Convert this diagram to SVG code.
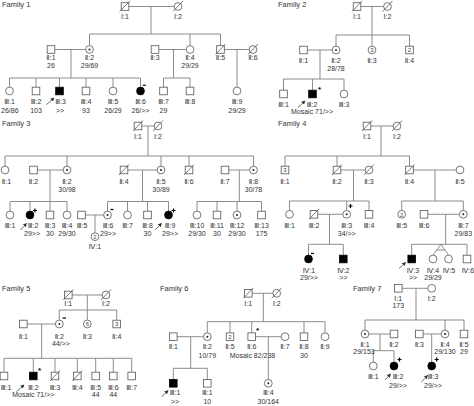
<svg xmlns="http://www.w3.org/2000/svg" width="474" height="406" viewBox="0 0 474 406">
<style>
.ln{stroke:#808080;stroke-width:0.9;fill:none}
.s{fill:#fff;stroke:#555;stroke-width:0.8}
.f{fill:#000;stroke:#000;stroke-width:0.8}
.sl{stroke:#555;stroke-width:0.8}
.dt{fill:#222}
.mk{stroke:#000;stroke-width:1.2;fill:none}
.ar{stroke:#333;stroke-width:0.7;marker-end:url(#ah)}
text{font-family:"Liberation Sans","DejaVu Sans",sans-serif;font-size:7px;text-anchor:middle;fill:#333}
.t{font-size:7.5px;text-anchor:start;fill:#333}
.in{font-size:6px;fill:#444}
.st{font-size:8px;font-weight:bold;fill:#000}
</style>
<defs>
<marker id="ah" viewBox="0 0 6 6" refX="5" refY="3" markerWidth="4" markerHeight="4" markerUnits="userSpaceOnUse" orient="auto"><path d="M0,0L6,3L0,6z" fill="#333"/></marker>
</defs>
<rect width="474" height="406" fill="#fff"/>
<text class="t" x="2" y="7">Family 1</text>
<text class="t" x="278" y="7">Family 2</text>
<text class="t" x="2" y="125.5">Family 3</text>
<text class="t" x="278" y="125.5">Family 4</text>
<text class="t" x="2" y="291">Family 5</text>
<text class="t" x="160" y="291">Family 6</text>
<text class="t" x="353" y="291">Family 7</text>

<g id="connectors">
<path class="ln" d="M129 6.5H174M151 6.5V34M89.5 34H220.5M89.5 34V45.6M190 34V45.6M220.5 34V45.7M54.8 49.5H85.6M71 49.5V78M9.5 78H140.5M9.5 78V87.1M36 78V87.2M59.5 78V87.2M86 78V87.2M113 78V87.1M140.5 78V87.1M158.8 49.5H186.1M173.5 49.5V78M163.5 78H190M163.5 78V87.2M190 78V87.2M224.3 49.5H249.1M237 49.5V87.1"/>
<path class="ln" d="M360.8 6.5H383.6M372 6.5V35M336 35H409.5M336 35V46.1M372 35V46.1M409.5 35V46.2M307.3 50H332.1M320 50V79M283.5 79H344M283.5 79V90.2M312.5 79V90.2M344 79V90.1"/>
<path class="ln" d="M141.8 126H154.1M148 126V156M5 156H253.5M5 156V166.1M67 156V166.1M161 156V166.1M189 156V166.2M253.5 156V166.1M37.3 170H63.1M50 170V201.5M10 201.5H67M10 201.5V211.1M30 201.5V211.1M50 201.5V211.2M67 201.5V211.1M127.8 170H157.1M142.5 170V201.5M107.5 201.5H168.5M107.5 201.5V211.1M127.5 201.5V211.1M147.5 201.5V211.2M168.5 201.5V211.1M228.8 170H249.6M239.3 170V201.5M197 201.5H261.5M197 201.5V211.1M217 201.5V211.2M237 201.5V211.1M261.5 201.5V211.2M85.3 215H103.6M95 215V232.8"/>
<path class="ln" d="M370.8 126H393.1M381 126V156M285 156H409.5M285 156V166.2M337 156V166.2M409.5 156V166.2M340.8 170H365.1M353.5 170V201M289.5 201H369M289.5 201V210.4M346.7 201V210.4M369 201V210.5M413.3 170H456.1M435 170V201M401.7 201H463.3M401.7 201V210.4M463.3 201V210.4M317.8 214.3H342.8M329.5 214.3V244.3M308.5 244.3H343.3M308.5 244.3V255.1M343.3 244.3V255.2M427.8 214.3H459.4M445.7 214.3V244.3M411.7 244.3H467M411.7 244.3V255.2M467 244.3V255.2M433 255.1L441 244.3L448.5 255.1M436.8 250H445"/>
<path class="ln" d="M72.1 295H102.1M87.3 295V310M59.3 310H116.7M59.3 310V320.1M87.3 310V320.1M116.7 310V320.2M27.1 324H55.4M41.7 324V358.3M4 358.3H131.7M4 358.3V372.2M33.3 358.3V372.2M55 358.3V372.2M77.3 358.3V372.2M95.7 358.3V372.2M113.3 358.3V372.2M131.7 358.3V372.2"/>
<path class="ln" d="M252.1 293.3H272.8M263.3 293.3V321.7M207.3 321.7H325M207.3 321.7V332.8M230 321.7V332.9M251.7 321.7V332.9M304 321.7V332.9M325 321.7V332.8M177.1 336.7H203.4M190.7 336.7V368.3M173.3 368.3H207.3M173.3 368.3V379.5M207.3 368.3V379.5M255.5 336.7H281.1M268.3 336.7V379.4"/>
<path class="ln" d="M402.1 288.3H427.8M416 288.3V320M365 320H464M365 320V330.1M445 320V330.1M464 320V330.2M368.9 334H390.2M380 334V350.7M373.3 350.7H394M373.3 350.7V362.1M394 350.7V362.1M423.1 334H441.1M431.7 334V362.1"/>
</g>

<!-- Family 1 -->
<g id="f1-I1"><rect class="s" x="121.2" y="2.7" width="7.6" height="7.6"/><line class="sl" x1="119.5" y1="11.5" x2="130" y2="1"/><text x="125" y="18.5">Ⅰ:1</text></g>
<g id="f1-I2"><circle class="s" cx="178" cy="6.5" r="3.9"/><line class="sl" x1="173" y1="11.5" x2="183" y2="1"/><text x="178" y="18.5">Ⅰ:2</text></g>
<g id="f1-II1"><rect class="s" x="47.2" y="45.7" width="7.6" height="7.6"/><text x="51" y="60">Ⅱ:1</text><text x="51" y="68">26</text></g>
<g id="f1-II2"><circle class="s" cx="89.5" cy="49.5" r="3.9"/><circle class="dt" cx="89.5" cy="49.5" r="1"/><text x="89.5" y="60">Ⅱ:2</text><text x="89.5" y="68">29/69</text></g>
<g id="f1-II3"><rect class="s" x="151.2" y="45.7" width="7.6" height="7.6"/><text x="155" y="60">Ⅱ:3</text></g>
<g id="f1-II4"><circle class="s" cx="190" cy="49.5" r="3.9"/><text x="190" y="60">Ⅱ:4</text><text x="190" y="68">29/29</text></g>
<g id="f1-II5"><rect class="s" x="216.7" y="45.7" width="7.6" height="7.6"/><line class="sl" x1="215.5" y1="54.5" x2="225.5" y2="44"/><text x="220.5" y="60">Ⅱ:5</text></g>
<g id="f1-II6"><circle class="s" cx="253" cy="49.5" r="3.9"/><line class="sl" x1="248" y1="54.5" x2="258" y2="44"/><text x="253" y="60">Ⅱ:6</text></g>
<g id="f1-III1"><circle class="s" cx="9.5" cy="91" r="3.9"/><text x="9.5" y="104">Ⅲ:1</text><text x="9.8" y="112.5">26/86</text></g>
<g id="f1-III2"><rect class="s" x="32.2" y="87.2" width="7.6" height="7.6"/><text x="36" y="104">Ⅲ:2</text><text x="36" y="112.5">103</text></g>
<g id="f1-III3"><rect class="f" x="55.7" y="87.2" width="7.6" height="7.6"/><line class="ar" x1="46.5" y1="104.5" x2="54" y2="98"/><text x="60.5" y="104">Ⅲ:3</text><text x="60" y="112.5">&gt;&gt;</text></g>
<g id="f1-III4"><rect class="s" x="82.2" y="87.2" width="7.6" height="7.6"/><text x="86" y="104">Ⅲ:4</text><text x="86" y="112.5">93</text></g>
<g id="f1-III5"><circle class="s" cx="113" cy="91" r="3.9"/><text x="113" y="104">Ⅲ:5</text><text x="113" y="112.5">26/29</text></g>
<g id="f1-III6"><circle class="f" cx="140.5" cy="91" r="3.9"/><path class="mk" d="M142.8 85.3H145.8"/><text x="140.5" y="104">Ⅲ:6</text><text x="140.5" y="112.5">26/&gt;&gt;</text></g>
<g id="f1-III7"><rect class="s" x="159.7" y="87.2" width="7.6" height="7.6"/><text x="163.5" y="104">Ⅲ:7</text><text x="163.5" y="112.5">29</text></g>
<g id="f1-III8"><rect class="s" x="186.2" y="87.2" width="7.6" height="7.6"/><text x="190" y="104">Ⅲ:8</text></g>
<g id="f1-III9"><circle class="s" cx="237" cy="91" r="3.9"/><text x="237" y="104">Ⅲ:9</text><text x="237" y="112.5">29/29</text></g>

<!-- Family 2 -->
<g id="f2-I1"><rect class="s" x="353.2" y="2.7" width="7.6" height="7.6"/><line class="sl" x1="352" y1="11.5" x2="362" y2="1"/><text x="357" y="18.5">Ⅰ:1</text></g>
<g id="f2-I2"><circle class="s" cx="387.5" cy="6.5" r="3.9"/><line class="sl" x1="382.5" y1="11.5" x2="392.5" y2="1"/><text x="387.5" y="18.5">Ⅰ:2</text></g>
<g id="f2-II1"><rect class="s" x="299.7" y="46.2" width="7.6" height="7.6"/><text x="303.5" y="62.5">Ⅱ:1</text></g>
<g id="f2-II2"><circle class="s" cx="336" cy="50" r="3.9"/><circle class="dt" cx="336" cy="50" r="1"/><text x="336" y="62.5">Ⅱ:2</text><text x="336" y="70.5">28/78</text></g>
<g id="f2-II3"><circle class="s" cx="372" cy="50" r="3.9"/><text class="in" x="372" y="52.2">3</text><text x="372" y="62.5">Ⅱ:3</text></g>
<g id="f2-II4"><rect class="s" x="405.7" y="46.2" width="7.6" height="7.6"/><text class="in" x="409.5" y="52.2">2</text><text x="409.5" y="62.5">Ⅱ:4</text></g>
<g id="f2-III1"><rect class="s" x="279.7" y="90.2" width="7.6" height="7.6"/><text x="283.5" y="106.5">Ⅲ:1</text></g>
<g id="f2-III2"><rect class="f" x="308.7" y="90.2" width="7.6" height="7.6"/><text class="st" x="319.5" y="92">*</text><line class="ar" x1="298" y1="107.5" x2="305" y2="101"/><text x="312" y="106.5">Ⅲ:2</text><text x="312" y="114">Mosaic 71/&gt;&gt;</text></g>
<g id="f2-III3"><circle class="s" cx="344" cy="94" r="3.9"/><text x="344" y="106.5">Ⅲ:3</text></g>

<!-- Family 3 -->
<g id="f3-I1"><rect class="s" x="134.2" y="122.2" width="7.6" height="7.6"/><line class="sl" x1="133" y1="131" x2="143" y2="120.5"/><text x="138" y="138.5">Ⅰ:1</text></g>
<g id="f3-I2"><circle class="s" cx="158" cy="126" r="3.9"/><line class="sl" x1="153" y1="131" x2="163" y2="120.5"/><text x="158" y="138.5">Ⅰ:2</text></g>
<g id="f3-II1"><circle class="s" cx="5" cy="170" r="3.9"/><text x="6.5" y="183.5">Ⅱ:1</text></g>
<g id="f3-II2"><rect class="s" x="29.7" y="166.2" width="7.6" height="7.6"/><text x="33.5" y="183.5">Ⅱ:2</text></g>
<g id="f3-II3"><circle class="s" cx="67" cy="170" r="3.9"/><circle class="dt" cx="67" cy="170" r="1"/><text x="67" y="183.5">Ⅱ:2</text><text x="67" y="191.5">30/98</text></g>
<g id="f3-II4"><rect class="s" x="120.2" y="166.2" width="7.6" height="7.6"/><line class="sl" x1="119" y1="175" x2="129" y2="164.5"/><text x="124" y="183.5">Ⅱ:4</text></g>
<g id="f3-II5"><circle class="s" cx="161" cy="170" r="3.9"/><circle class="dt" cx="161" cy="170" r="1"/><text x="161" y="183.5">Ⅱ:5</text><text x="161" y="191.5">30/89</text></g>
<g id="f3-II6"><rect class="s" x="185.2" y="166.2" width="7.6" height="7.6"/><line class="sl" x1="184" y1="175" x2="194" y2="164.5"/><text x="189" y="183.5">Ⅱ:6</text></g>
<g id="f3-II7"><rect class="s" x="221.2" y="166.2" width="7.6" height="7.6"/><text x="225" y="183.5">Ⅱ:7</text></g>
<g id="f3-II8"><circle class="s" cx="253.5" cy="170" r="3.9"/><circle class="dt" cx="253.5" cy="170" r="1"/><text x="253.5" y="183.5">Ⅱ:8</text><text x="253.5" y="191.5">30/78</text></g>
<g id="f3-III1"><circle class="s" cx="10" cy="215" r="3.9"/><text x="10" y="227.5">Ⅲ:1</text></g>
<g id="f3-III2"><circle class="f" cx="30" cy="215" r="3.9"/><path class="mk" d="M33 210.5H37M35 208.5V212.5"/><line class="ar" x1="20.5" y1="230" x2="26.5" y2="223.5"/><text x="33" y="227.5">Ⅲ:2</text><text x="32" y="236">29&gt;&gt;</text></g>
<g id="f3-III3"><rect class="s" x="46.2" y="211.2" width="7.6" height="7.6"/><text x="50" y="227.5">Ⅲ:3</text><text x="50" y="236">30</text></g>
<g id="f3-III4"><circle class="s" cx="67" cy="215" r="3.9"/><text x="67" y="227.5">Ⅲ:4</text><text x="67" y="236">29/30</text></g>
<g id="f3-III5"><rect class="s" x="77.7" y="211.2" width="7.6" height="7.6"/><text x="82" y="227.5">Ⅲ:5</text></g>
<g id="f3-III6"><circle class="s" cx="107.5" cy="215" r="3.9"/><circle class="dt" cx="107.5" cy="215" r="1"/><path class="mk" d="M110.5 209.5H113.5"/><text x="108" y="227.5">Ⅲ:6</text><text x="108" y="236">29&gt;&gt;</text></g>
<g id="f3-III7"><circle class="s" cx="127.5" cy="215" r="3.9"/><text x="127.5" y="227.5">Ⅲ:7</text></g>
<g id="f3-III8"><rect class="s" x="143.7" y="211.2" width="7.6" height="7.6"/><text x="147.5" y="227.5">Ⅲ:8</text><text x="147.5" y="236">30</text></g>
<g id="f3-III9"><circle class="f" cx="168.5" cy="215" r="3.9"/><path class="mk" d="M171.5 210.5H175.5M173.5 208.5V212.5"/><line class="ar" x1="155.5" y1="229.5" x2="161.5" y2="223.5"/><text x="170" y="227.5">Ⅲ:9</text><text x="170" y="236">29&gt;&gt;</text></g>
<g id="f3-III10"><circle class="s" cx="197" cy="215" r="3.9"/><text x="197" y="227.5">Ⅲ:10</text><text x="197" y="236">29/30</text></g>
<g id="f3-III11"><rect class="s" x="213.2" y="211.2" width="7.6" height="7.6"/><text x="217" y="227.5">Ⅲ:11</text><text x="217" y="236">30</text></g>
<g id="f3-III12"><circle class="s" cx="237" cy="215" r="3.9"/><circle class="dt" cx="237" cy="215" r="1"/><text x="237" y="227.5">Ⅲ:12</text><text x="237" y="236">29/30</text></g>
<g id="f3-III13"><rect class="s" x="257.7" y="211.2" width="7.6" height="7.6"/><text x="261.5" y="227.5">Ⅲ:13</text><text x="261.5" y="236">175</text></g>
<g id="f3-IV1"><circle class="s" cx="95" cy="236.7" r="3.9"/><text class="in" x="95" y="238.9">2</text><text x="95" y="248.5">Ⅳ:1</text></g>

<!-- Family 4 -->
<g id="f4-I1"><rect class="s" x="363.2" y="122.2" width="7.6" height="7.6"/><line class="sl" x1="362" y1="131" x2="372" y2="120.5"/><text x="367" y="138.5">Ⅰ:1</text></g>
<g id="f4-I2"><circle class="s" cx="397" cy="126" r="3.9"/><line class="sl" x1="392" y1="131" x2="402" y2="120.5"/><text x="397" y="138.5">Ⅰ:2</text></g>
<g id="f4-II1"><rect class="s" x="281.2" y="166.2" width="7.6" height="7.6"/><text class="in" x="285" y="172.2">3</text><text x="285" y="184">Ⅱ:1</text></g>
<g id="f4-II2"><rect class="s" x="333.2" y="166.2" width="7.6" height="7.6"/><line class="sl" x1="332" y1="175" x2="342" y2="164.5"/><text x="337" y="184">Ⅱ:2</text></g>
<g id="f4-II3"><circle class="s" cx="369" cy="170" r="3.9"/><line class="sl" x1="364" y1="175" x2="374" y2="164.5"/><text x="369" y="184">Ⅱ:3</text></g>
<g id="f4-II4"><rect class="s" x="405.7" y="166.2" width="7.6" height="7.6"/><line class="sl" x1="404.5" y1="175" x2="414.5" y2="164.5"/><text x="409.5" y="184">Ⅱ:4</text></g>
<g id="f4-II5"><circle class="s" cx="460" cy="170" r="3.9"/><text x="460" y="184">Ⅱ:5</text></g>
<g id="f4-III1"><circle class="s" cx="289.5" cy="214.3" r="3.9"/><text x="289.5" y="227.5">Ⅲ:1</text></g>
<g id="f4-III2"><rect class="s" x="310.2" y="210.5" width="7.6" height="7.6"/><line class="sl" x1="309" y1="219.3" x2="319" y2="208.8"/><text x="314" y="227.5">Ⅲ:2</text></g>
<g id="f4-III3"><circle class="s" cx="346.7" cy="214.3" r="3.9"/><circle class="dt" cx="346.7" cy="214.3" r="1"/><path class="mk" d="M348.5 206H352.5M350.5 204V208"/><text x="346.7" y="227.5">Ⅲ:3</text><text x="346.7" y="236">34/&gt;&gt;</text></g>
<g id="f4-III4"><rect class="s" x="365.2" y="210.5" width="7.6" height="7.6"/><text x="369" y="227.5">Ⅲ:4</text></g>
<g id="f4-III5"><circle class="s" cx="401.7" cy="214.3" r="3.9"/><text class="in" x="401.7" y="216.5">2</text><text x="401.7" y="227.5">Ⅲ:5</text></g>
<g id="f4-III6"><rect class="s" x="420.2" y="210.5" width="7.6" height="7.6"/><text x="424" y="227.5">Ⅲ:6</text></g>
<g id="f4-III7"><circle class="s" cx="463.3" cy="214.3" r="3.9"/><circle class="dt" cx="463.3" cy="214.3" r="1"/><text x="463.3" y="227.5">Ⅲ:7</text><text x="463.3" y="236">29/83</text></g>
<g id="f4-IV1"><circle class="f" cx="308.5" cy="259" r="3.9"/><path class="mk" d="M311 253.5H314"/><text x="309" y="272.5">Ⅳ:1</text><text x="309" y="280">29/&gt;&gt;</text></g>
<g id="f4-IV2"><rect class="f" x="339.5" y="255.2" width="7.6" height="7.6"/><text x="343.3" y="272.5">Ⅳ:2</text><text x="343.3" y="280">&gt;&gt;</text></g>
<g id="f4-IV3"><rect class="f" x="407.9" y="255.2" width="7.6" height="7.6"/><line class="ar" x1="399" y1="268.5" x2="405.5" y2="262.5"/><text x="413" y="272.5">Ⅳ:3</text><text x="413" y="280">&gt;&gt;</text></g>
<g id="f4-IV4"><circle class="s" cx="433" cy="259" r="3.9"/><text x="433" y="272.5">Ⅳ:4</text><text x="433" y="280">29/29</text></g>
<g id="f4-IV5"><circle class="s" cx="448.5" cy="259" r="3.9"/><text x="449" y="272.5">Ⅳ:5</text></g>
<g id="f4-IV6"><rect class="s" x="463.2" y="255.2" width="7.6" height="7.6"/><text x="468" y="272.5">Ⅳ:6</text></g>

<!-- Family 5 -->
<g id="f5-I1"><rect class="s" x="64.5" y="291.2" width="7.6" height="7.6"/><line class="sl" x1="63.3" y1="300" x2="73.3" y2="289.5"/><text x="68.3" y="305.5">Ⅰ:1</text></g>
<g id="f5-I2"><circle class="s" cx="106" cy="295" r="3.9"/><line class="sl" x1="101" y1="300" x2="111" y2="289.5"/><text x="106" y="305.5">Ⅰ:2</text></g>
<g id="f5-II1"><rect class="s" x="19.5" y="320.2" width="7.6" height="7.6"/><text x="23.3" y="338.5">Ⅱ:1</text></g>
<g id="f5-II2"><circle class="s" cx="59.3" cy="324" r="3.9"/><circle class="dt" cx="59.3" cy="324" r="1"/><path class="mk" d="M62.5 318H66"/><text x="59.3" y="338.5">Ⅱ:2</text><text x="61" y="346">44/&gt;&gt;</text></g>
<g id="f5-II3"><circle class="s" cx="87.3" cy="324" r="3.9"/><text class="in" x="87.3" y="326.2">6</text><text x="87.3" y="338.5">Ⅱ:3</text></g>
<g id="f5-II4"><rect class="s" x="112.9" y="320.2" width="7.6" height="7.6"/><text class="in" x="116.7" y="326.2">3</text><text x="116.7" y="338.5">Ⅱ:4</text></g>
<g id="f5-III1"><rect class="s" x="0.2" y="372.2" width="7.6" height="7.6"/><text x="6" y="389.5">Ⅲ:1</text></g>
<g id="f5-III2"><rect class="f" x="29.5" y="372.2" width="7.6" height="7.6"/><text class="st" x="39.5" y="373">*</text><line class="ar" x1="16.5" y1="391.5" x2="24" y2="385"/><text x="33.3" y="389.5">Ⅲ:2</text><text x="33.3" y="397">Mosaic 71/&gt;&gt;</text></g>
<g id="f5-III3"><rect class="s" x="51.2" y="372.2" width="7.6" height="7.6"/><line class="sl" x1="50" y1="381" x2="60" y2="370.5"/><text x="55" y="389.5">Ⅲ:3</text></g>
<g id="f5-III4"><rect class="s" x="73.5" y="372.2" width="7.6" height="7.6"/><line class="sl" x1="72.3" y1="381" x2="82.3" y2="370.5"/><text x="77.3" y="389.5">Ⅲ:4</text></g>
<g id="f5-III5"><rect class="s" x="91.9" y="372.2" width="7.6" height="7.6"/><text x="95.7" y="389.5">Ⅲ:5</text><text x="95.7" y="397">44</text></g>
<g id="f5-III6"><rect class="s" x="109.5" y="372.2" width="7.6" height="7.6"/><text x="113.3" y="389.5">Ⅲ:6</text><text x="113.3" y="397">44</text></g>
<g id="f5-III7"><rect class="s" x="127.9" y="372.2" width="7.6" height="7.6"/><text x="131.7" y="389.5">Ⅲ:7</text></g>

<!-- Family 6 -->
<g id="f6-I1"><rect class="s" x="244.5" y="289.5" width="7.6" height="7.6"/><line class="sl" x1="243.3" y1="298.3" x2="253.3" y2="287.8"/><text x="248.3" y="305.5">Ⅰ:1</text></g>
<g id="f6-I2"><circle class="s" cx="276.7" cy="293.3" r="3.9"/><line class="sl" x1="271.7" y1="298.3" x2="281.7" y2="287.8"/><text x="276.7" y="305.5">Ⅰ:2</text></g>
<g id="f6-II1"><rect class="s" x="169.5" y="332.9" width="7.6" height="7.6"/><text x="173.3" y="348.5">Ⅱ:1</text></g>
<g id="f6-II2"><circle class="s" cx="207.3" cy="336.7" r="3.9"/><circle class="dt" cx="207.3" cy="336.7" r="1"/><text x="207.3" y="348.5">Ⅱ:2</text><text x="207.3" y="357.5">10/79</text></g>
<g id="f6-II5"><rect class="s" x="226.2" y="332.9" width="7.6" height="7.6"/><text class="in" x="230" y="338.9">2</text><text x="230" y="348.5">Ⅱ:5</text></g>
<g id="f6-II6"><rect class="s" x="247.9" y="332.9" width="7.6" height="7.6"/><text class="st" x="257.5" y="333">*</text><text x="251.7" y="348.5">Ⅱ:6</text><text x="252.5" y="357.5">Mosaic 82/238</text></g>
<g id="f6-II7"><circle class="s" cx="285" cy="336.7" r="3.9"/><text x="285" y="348.5">Ⅱ:7</text></g>
<g id="f6-II8"><rect class="s" x="300.2" y="332.9" width="7.6" height="7.6"/><text x="304" y="348.5">Ⅱ:8</text><text x="304" y="357.5">30</text></g>
<g id="f6-II9"><circle class="s" cx="325" cy="336.7" r="3.9"/><text x="325" y="348.5">Ⅱ:9</text></g>
<g id="f6-III1"><rect class="f" x="169.5" y="379.5" width="7.6" height="7.6"/><line class="ar" x1="161.5" y1="397" x2="168" y2="390.5"/><text x="175" y="395">Ⅲ:1</text><text x="175" y="403.5">&gt;&gt;</text></g>
<g id="f6-III1b"><rect class="s" x="203.5" y="379.5" width="7.6" height="7.6"/><text x="207.3" y="395">Ⅲ:1</text><text x="207.3" y="403.5">10</text></g>
<g id="f6-III4"><circle class="s" cx="268.3" cy="383.3" r="3.9"/><circle class="dt" cx="268.3" cy="383.3" r="1"/><text x="268.3" y="395">Ⅲ:4</text><text x="268.3" y="403.5">30/164</text></g>

<!-- Family 7 -->
<g id="f7-I1"><rect class="s" x="394.5" y="284.5" width="7.6" height="7.6"/><text x="398.3" y="300.8">Ⅰ:1</text><text x="398.3" y="308">173</text></g>
<g id="f7-I2"><circle class="s" cx="431.7" cy="288.3" r="3.9"/><text x="431.7" y="300.8">Ⅰ:2</text></g>
<g id="f7-II1"><circle class="s" cx="365" cy="334" r="3.9"/><circle class="dt" cx="365" cy="334" r="1"/><text x="365" y="346.5">Ⅱ:1</text><text x="364" y="354">29/153</text></g>
<g id="f7-II2"><rect class="s" x="390.2" y="330.2" width="7.6" height="7.6"/><text x="394" y="346.5">Ⅱ:2</text></g>
<g id="f7-II3"><rect class="s" x="415.5" y="330.2" width="7.6" height="7.6"/><text x="419.3" y="346.5">Ⅱ:3</text></g>
<g id="f7-II4"><circle class="s" cx="445" cy="334" r="3.9"/><circle class="dt" cx="445" cy="334" r="1"/><text x="445" y="346.5">Ⅱ:4</text><text x="445" y="354">29/130</text></g>
<g id="f7-II5"><rect class="s" x="460.2" y="330.2" width="7.6" height="7.6"/><text x="464" y="346.5">Ⅱ:5</text><text x="464" y="354">29</text></g>
<g id="f7-III1"><circle class="s" cx="373.3" cy="366" r="3.9"/><text x="373.3" y="379">Ⅲ:1</text></g>
<g id="f7-III2"><circle class="f" cx="394" cy="366" r="3.9"/><path class="mk" d="M397.5 359.5H401.5M399.5 357.5V361.5"/><line class="ar" x1="385" y1="380" x2="390.5" y2="374"/><text x="398" y="379">Ⅲ:2</text><text x="398" y="387.5">29/&gt;&gt;</text></g>
<g id="f7-III3"><circle class="f" cx="431.7" cy="366" r="3.9"/><path class="mk" d="M434.7 359.5H438.7M436.7 357.5V361.5"/><line class="ar" x1="421.5" y1="382" x2="427.5" y2="375.5"/><text x="433" y="379">Ⅲ:3</text><text x="433" y="387.5">29/&gt;&gt;</text></g>
</svg>
